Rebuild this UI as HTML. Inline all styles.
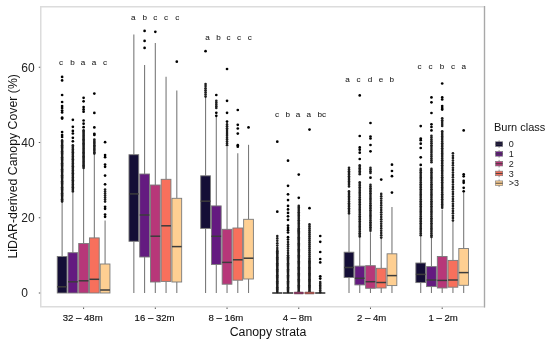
<!DOCTYPE html>
<html><head><meta charset="utf-8"><title>Canopy cover boxplot</title>
<style>
html,body{margin:0;padding:0;background:#fff;}
body{width:550px;height:345px;overflow:hidden;}
svg{display:block;}
text{font-family:"Liberation Sans",Arial,sans-serif;}
.yt{font-size:12px;fill:#222;text-anchor:start;}
.xt{font-size:9.6px;fill:#111;stroke:#111;stroke-width:0.15px;text-anchor:middle;}
.lt{font-size:8.1px;fill:#151515;stroke:#151515;stroke-width:0.05px;text-anchor:middle;}
.at{font-size:12.3px;fill:#111;text-anchor:middle;}
.lg{font-size:11px;fill:#111;}
.ll{font-size:9px;fill:#222;}
</style></head>
<body>
<svg width="550" height="345" viewBox="0 0 550 345">
<rect x="40.75" y="6.75" width="443.75" height="300" fill="#fff" stroke="#dcdcdc" stroke-width="1.5"/>
<line x1="484.5" y1="6" x2="484.5" y2="307.5" stroke="#a8a8a8" stroke-width="1.2"/>
<line x1="38.8" y1="293.00" x2="40.2" y2="293.00" stroke="#555" stroke-width="1"/>
<text x="21.25" y="297.30" class="yt">0</text>
<line x1="38.8" y1="217.75" x2="40.2" y2="217.75" stroke="#555" stroke-width="1"/>
<text x="21.25" y="222.05" class="yt">20</text>
<line x1="38.8" y1="142.50" x2="40.2" y2="142.50" stroke="#555" stroke-width="1"/>
<text x="21.25" y="146.80" class="yt">40</text>
<line x1="38.8" y1="67.25" x2="40.2" y2="67.25" stroke="#555" stroke-width="1"/>
<text x="21.25" y="71.55" class="yt">60</text>
<line x1="83.60" y1="307.5" x2="83.60" y2="309" stroke="#555" stroke-width="1"/>
<text x="82.70" y="321.3" class="xt">32 – 48m</text>
<line x1="155.32" y1="307.5" x2="155.32" y2="309" stroke="#555" stroke-width="1"/>
<text x="154.57" y="321.3" class="xt">16 – 32m</text>
<line x1="227.04" y1="307.5" x2="227.04" y2="309" stroke="#555" stroke-width="1"/>
<text x="225.89" y="321.3" class="xt">8 – 16m</text>
<line x1="298.76" y1="307.5" x2="298.76" y2="309" stroke="#555" stroke-width="1"/>
<text x="297.41" y="321.3" class="xt">4 – 8m</text>
<line x1="370.48" y1="307.5" x2="370.48" y2="309" stroke="#555" stroke-width="1"/>
<text x="371.58" y="321.3" class="xt">2 – 4m</text>
<line x1="442.20" y1="307.5" x2="442.20" y2="309" stroke="#555" stroke-width="1"/>
<text x="443.10" y="321.3" class="xt">1 – 2m</text>
<line x1="62.12" y1="202.60" x2="62.12" y2="256.50" stroke="#7a7a7a" stroke-width="1.1"/>
<rect x="57.25" y="256.50" width="9.74" height="36.50" fill="#140e36" stroke="#7a7a7a" stroke-width="0.9"/>
<line x1="57.25" y1="286.80" x2="66.99" y2="286.80" stroke="#3c3c3c" stroke-width="1.5"/>
<line x1="72.86" y1="192.50" x2="72.86" y2="252.70" stroke="#7a7a7a" stroke-width="1.1"/>
<rect x="67.99" y="252.70" width="9.74" height="40.30" fill="#641a80" stroke="#7a7a7a" stroke-width="0.9"/>
<line x1="67.99" y1="281.80" x2="77.73" y2="281.80" stroke="#3c3c3c" stroke-width="1.5"/>
<line x1="83.60" y1="168.00" x2="83.60" y2="243.50" stroke="#7a7a7a" stroke-width="1.1"/>
<rect x="78.73" y="243.50" width="9.74" height="49.50" fill="#b73779" stroke="#7a7a7a" stroke-width="0.9"/>
<line x1="78.73" y1="280.80" x2="88.47" y2="280.80" stroke="#3c3c3c" stroke-width="1.5"/>
<line x1="94.34" y1="154.30" x2="94.34" y2="237.90" stroke="#7a7a7a" stroke-width="1.1"/>
<rect x="89.47" y="237.90" width="9.74" height="55.10" fill="#f7705c" stroke="#7a7a7a" stroke-width="0.9"/>
<line x1="89.47" y1="279.30" x2="99.21" y2="279.30" stroke="#3c3c3c" stroke-width="1.5"/>
<line x1="105.08" y1="220.50" x2="105.08" y2="264.00" stroke="#7a7a7a" stroke-width="1.1"/>
<rect x="100.21" y="264.00" width="9.74" height="29.00" fill="#fecf92" stroke="#7a7a7a" stroke-width="0.9"/>
<line x1="100.21" y1="290.00" x2="109.95" y2="290.00" stroke="#3c3c3c" stroke-width="1.5"/>
<line x1="133.84" y1="34.60" x2="133.84" y2="154.70" stroke="#7a7a7a" stroke-width="1.1"/>
<line x1="133.84" y1="241.30" x2="133.84" y2="293.00" stroke="#7a7a7a" stroke-width="1.1"/>
<rect x="128.97" y="154.70" width="9.74" height="86.60" fill="#140e36" stroke="#7a7a7a" stroke-width="0.9"/>
<line x1="128.97" y1="193.90" x2="138.71" y2="193.90" stroke="#3c3c3c" stroke-width="1.5"/>
<line x1="144.58" y1="65.00" x2="144.58" y2="174.00" stroke="#7a7a7a" stroke-width="1.1"/>
<line x1="144.58" y1="257.00" x2="144.58" y2="293.00" stroke="#7a7a7a" stroke-width="1.1"/>
<rect x="139.71" y="174.00" width="9.74" height="83.00" fill="#641a80" stroke="#7a7a7a" stroke-width="0.9"/>
<line x1="139.71" y1="215.00" x2="149.45" y2="215.00" stroke="#3c3c3c" stroke-width="1.5"/>
<line x1="155.32" y1="43.00" x2="155.32" y2="185.00" stroke="#7a7a7a" stroke-width="1.1"/>
<line x1="155.32" y1="282.00" x2="155.32" y2="293.00" stroke="#7a7a7a" stroke-width="1.1"/>
<rect x="150.45" y="185.00" width="9.74" height="97.00" fill="#b73779" stroke="#7a7a7a" stroke-width="0.9"/>
<line x1="150.45" y1="236.20" x2="160.19" y2="236.20" stroke="#3c3c3c" stroke-width="1.5"/>
<line x1="166.06" y1="76.80" x2="166.06" y2="179.30" stroke="#7a7a7a" stroke-width="1.1"/>
<line x1="166.06" y1="281.40" x2="166.06" y2="293.00" stroke="#7a7a7a" stroke-width="1.1"/>
<rect x="161.19" y="179.30" width="9.74" height="102.10" fill="#f7705c" stroke="#7a7a7a" stroke-width="0.9"/>
<line x1="161.19" y1="225.80" x2="170.93" y2="225.80" stroke="#3c3c3c" stroke-width="1.5"/>
<line x1="176.80" y1="90.40" x2="176.80" y2="198.30" stroke="#7a7a7a" stroke-width="1.1"/>
<line x1="176.80" y1="282.00" x2="176.80" y2="293.00" stroke="#7a7a7a" stroke-width="1.1"/>
<rect x="171.93" y="198.30" width="9.74" height="83.70" fill="#fecf92" stroke="#7a7a7a" stroke-width="0.9"/>
<line x1="171.93" y1="246.60" x2="181.67" y2="246.60" stroke="#3c3c3c" stroke-width="1.5"/>
<line x1="205.56" y1="97.00" x2="205.56" y2="175.80" stroke="#7a7a7a" stroke-width="1.1"/>
<line x1="205.56" y1="228.40" x2="205.56" y2="293.00" stroke="#7a7a7a" stroke-width="1.1"/>
<rect x="200.69" y="175.80" width="9.74" height="52.60" fill="#140e36" stroke="#7a7a7a" stroke-width="0.9"/>
<line x1="200.69" y1="201.20" x2="210.43" y2="201.20" stroke="#3c3c3c" stroke-width="1.5"/>
<line x1="216.30" y1="116.00" x2="216.30" y2="205.90" stroke="#7a7a7a" stroke-width="1.1"/>
<line x1="216.30" y1="264.50" x2="216.30" y2="293.00" stroke="#7a7a7a" stroke-width="1.1"/>
<rect x="211.43" y="205.90" width="9.74" height="58.60" fill="#641a80" stroke="#7a7a7a" stroke-width="0.9"/>
<line x1="211.43" y1="236.30" x2="221.17" y2="236.30" stroke="#3c3c3c" stroke-width="1.5"/>
<line x1="227.04" y1="147.00" x2="227.04" y2="229.30" stroke="#7a7a7a" stroke-width="1.1"/>
<line x1="227.04" y1="284.20" x2="227.04" y2="293.00" stroke="#7a7a7a" stroke-width="1.1"/>
<rect x="222.17" y="229.30" width="9.74" height="54.90" fill="#b73779" stroke="#7a7a7a" stroke-width="0.9"/>
<line x1="222.17" y1="262.40" x2="231.91" y2="262.40" stroke="#3c3c3c" stroke-width="1.5"/>
<line x1="237.78" y1="153.30" x2="237.78" y2="228.00" stroke="#7a7a7a" stroke-width="1.1"/>
<line x1="237.78" y1="280.20" x2="237.78" y2="293.00" stroke="#7a7a7a" stroke-width="1.1"/>
<rect x="232.91" y="228.00" width="9.74" height="52.20" fill="#f7705c" stroke="#7a7a7a" stroke-width="0.9"/>
<line x1="232.91" y1="259.80" x2="242.65" y2="259.80" stroke="#3c3c3c" stroke-width="1.5"/>
<line x1="248.52" y1="144.80" x2="248.52" y2="219.30" stroke="#7a7a7a" stroke-width="1.1"/>
<line x1="248.52" y1="279.00" x2="248.52" y2="293.00" stroke="#7a7a7a" stroke-width="1.1"/>
<rect x="243.65" y="219.30" width="9.74" height="59.70" fill="#fecf92" stroke="#7a7a7a" stroke-width="0.9"/>
<line x1="243.65" y1="258.20" x2="253.39" y2="258.20" stroke="#3c3c3c" stroke-width="1.5"/>
<line x1="349.00" y1="214.80" x2="349.00" y2="252.20" stroke="#7a7a7a" stroke-width="1.1"/>
<line x1="349.00" y1="277.50" x2="349.00" y2="293.00" stroke="#7a7a7a" stroke-width="1.1"/>
<rect x="344.13" y="252.20" width="9.74" height="25.30" fill="#140e36" stroke="#7a7a7a" stroke-width="0.9"/>
<line x1="344.13" y1="267.50" x2="353.87" y2="267.50" stroke="#3c3c3c" stroke-width="1.5"/>
<line x1="359.74" y1="237.90" x2="359.74" y2="266.10" stroke="#7a7a7a" stroke-width="1.1"/>
<line x1="359.74" y1="284.90" x2="359.74" y2="293.00" stroke="#7a7a7a" stroke-width="1.1"/>
<rect x="354.87" y="266.10" width="9.74" height="18.80" fill="#641a80" stroke="#7a7a7a" stroke-width="0.9"/>
<line x1="354.87" y1="278.30" x2="364.61" y2="278.30" stroke="#3c3c3c" stroke-width="1.5"/>
<line x1="370.48" y1="232.20" x2="370.48" y2="265.70" stroke="#7a7a7a" stroke-width="1.1"/>
<line x1="370.48" y1="288.30" x2="370.48" y2="293.00" stroke="#7a7a7a" stroke-width="1.1"/>
<rect x="365.61" y="265.70" width="9.74" height="22.60" fill="#b73779" stroke="#7a7a7a" stroke-width="0.9"/>
<line x1="365.61" y1="281.70" x2="375.35" y2="281.70" stroke="#3c3c3c" stroke-width="1.5"/>
<line x1="381.22" y1="237.90" x2="381.22" y2="268.30" stroke="#7a7a7a" stroke-width="1.1"/>
<line x1="381.22" y1="288.00" x2="381.22" y2="293.00" stroke="#7a7a7a" stroke-width="1.1"/>
<rect x="376.35" y="268.30" width="9.74" height="19.70" fill="#f7705c" stroke="#7a7a7a" stroke-width="0.9"/>
<line x1="376.35" y1="282.50" x2="386.09" y2="282.50" stroke="#3c3c3c" stroke-width="1.5"/>
<line x1="391.96" y1="207.00" x2="391.96" y2="253.80" stroke="#7a7a7a" stroke-width="1.1"/>
<line x1="391.96" y1="285.60" x2="391.96" y2="293.00" stroke="#7a7a7a" stroke-width="1.1"/>
<rect x="387.09" y="253.80" width="9.74" height="31.80" fill="#fecf92" stroke="#7a7a7a" stroke-width="0.9"/>
<line x1="387.09" y1="275.60" x2="396.83" y2="275.60" stroke="#3c3c3c" stroke-width="1.5"/>
<line x1="420.72" y1="235.20" x2="420.72" y2="263.00" stroke="#7a7a7a" stroke-width="1.1"/>
<line x1="420.72" y1="282.60" x2="420.72" y2="293.00" stroke="#7a7a7a" stroke-width="1.1"/>
<rect x="415.85" y="263.00" width="9.74" height="19.60" fill="#140e36" stroke="#7a7a7a" stroke-width="0.9"/>
<line x1="415.85" y1="274.40" x2="425.59" y2="274.40" stroke="#3c3c3c" stroke-width="1.5"/>
<line x1="431.46" y1="237.10" x2="431.46" y2="266.60" stroke="#7a7a7a" stroke-width="1.1"/>
<line x1="431.46" y1="286.60" x2="431.46" y2="293.00" stroke="#7a7a7a" stroke-width="1.1"/>
<rect x="426.59" y="266.60" width="9.74" height="20.00" fill="#641a80" stroke="#7a7a7a" stroke-width="0.9"/>
<line x1="426.59" y1="280.00" x2="436.33" y2="280.00" stroke="#3c3c3c" stroke-width="1.5"/>
<line x1="442.20" y1="209.40" x2="442.20" y2="256.50" stroke="#7a7a7a" stroke-width="1.1"/>
<line x1="442.20" y1="288.00" x2="442.20" y2="293.00" stroke="#7a7a7a" stroke-width="1.1"/>
<rect x="437.33" y="256.50" width="9.74" height="31.50" fill="#b73779" stroke="#7a7a7a" stroke-width="0.9"/>
<line x1="437.33" y1="280.40" x2="447.07" y2="280.40" stroke="#3c3c3c" stroke-width="1.5"/>
<line x1="452.94" y1="221.00" x2="452.94" y2="260.40" stroke="#7a7a7a" stroke-width="1.1"/>
<line x1="452.94" y1="287.20" x2="452.94" y2="293.00" stroke="#7a7a7a" stroke-width="1.1"/>
<rect x="448.07" y="260.40" width="9.74" height="26.80" fill="#f7705c" stroke="#7a7a7a" stroke-width="0.9"/>
<line x1="448.07" y1="280.00" x2="457.81" y2="280.00" stroke="#3c3c3c" stroke-width="1.5"/>
<line x1="463.68" y1="192.40" x2="463.68" y2="248.50" stroke="#7a7a7a" stroke-width="1.1"/>
<line x1="463.68" y1="285.30" x2="463.68" y2="293.00" stroke="#7a7a7a" stroke-width="1.1"/>
<rect x="458.81" y="248.50" width="9.74" height="36.80" fill="#fecf92" stroke="#7a7a7a" stroke-width="0.9"/>
<line x1="458.81" y1="272.60" x2="468.55" y2="272.60" stroke="#3c3c3c" stroke-width="1.5"/>
<g fill="#000"><circle cx="62.12" cy="76.90" r="1.35"/><circle cx="62.12" cy="80.40" r="1.35"/><circle cx="62.12" cy="95.00" r="1.35"/><circle cx="62.12" cy="102.00" r="1.35"/><circle cx="62.12" cy="106.00" r="1.35"/><circle cx="62.12" cy="108.00" r="1.35"/><circle cx="62.12" cy="110.50" r="1.35"/><circle cx="62.12" cy="112.40" r="1.35"/><circle cx="62.12" cy="117.50" r="1.35"/><circle cx="62.12" cy="118.60" r="1.35"/><circle cx="62.12" cy="132.10" r="1.35"/><circle cx="62.12" cy="135.00" r="1.35"/><circle cx="62.12" cy="137.00" r="1.35"/><circle cx="72.86" cy="119.80" r="1.35"/><circle cx="72.86" cy="126.80" r="1.35"/><circle cx="72.86" cy="130.90" r="1.35"/><circle cx="72.86" cy="133.50" r="1.35"/><circle cx="72.86" cy="137.80" r="1.35"/><circle cx="72.86" cy="141.30" r="1.35"/><circle cx="83.60" cy="97.80" r="1.35"/><circle cx="83.60" cy="101.30" r="1.35"/><circle cx="83.60" cy="107.00" r="1.35"/><circle cx="83.60" cy="109.40" r="1.35"/><circle cx="83.60" cy="111.70" r="1.35"/><circle cx="83.60" cy="120.50" r="1.35"/><circle cx="83.60" cy="123.70" r="1.35"/><circle cx="83.60" cy="127.20" r="1.35"/><circle cx="94.34" cy="93.60" r="1.35"/><circle cx="94.34" cy="112.90" r="1.35"/><circle cx="94.34" cy="127.40" r="1.35"/><circle cx="94.34" cy="133.80" r="1.35"/><circle cx="94.34" cy="134.90" r="1.35"/><circle cx="105.08" cy="142.20" r="1.35"/><circle cx="105.08" cy="155.00" r="1.35"/><circle cx="105.08" cy="157.20" r="1.35"/><circle cx="105.08" cy="164.60" r="1.35"/><circle cx="105.08" cy="166.80" r="1.35"/><circle cx="105.08" cy="175.60" r="1.35"/><circle cx="105.08" cy="184.30" r="1.35"/><circle cx="105.08" cy="206.80" r="1.35"/><circle cx="105.08" cy="208.80" r="1.35"/><circle cx="105.08" cy="214.60" r="1.35"/><circle cx="105.08" cy="216.80" r="1.35"/><circle cx="144.58" cy="30.90" r="1.35"/><circle cx="144.58" cy="40.90" r="1.35"/><circle cx="144.58" cy="47.90" r="1.35"/><circle cx="155.32" cy="31.80" r="1.35"/><circle cx="176.80" cy="61.70" r="1.35"/><circle cx="205.56" cy="51.20" r="1.35"/><circle cx="216.30" cy="95.00" r="1.35"/><circle cx="216.30" cy="112.80" r="1.35"/><circle cx="216.30" cy="115.80" r="1.35"/><circle cx="227.04" cy="69.00" r="1.35"/><circle cx="227.04" cy="100.80" r="1.35"/><circle cx="227.04" cy="112.80" r="1.35"/><circle cx="227.04" cy="121.60" r="1.35"/><circle cx="237.78" cy="110.00" r="1.35"/><circle cx="237.78" cy="124.80" r="1.35"/><circle cx="237.78" cy="128.50" r="1.35"/><circle cx="237.78" cy="133.60" r="1.35"/><circle cx="237.78" cy="145.20" r="1.35"/><circle cx="237.78" cy="146.70" r="1.35"/><circle cx="248.52" cy="127.40" r="1.35"/><circle cx="277.28" cy="141.70" r="1.35"/><circle cx="277.28" cy="211.70" r="1.35"/><circle cx="288.02" cy="160.70" r="1.35"/><circle cx="288.02" cy="185.80" r="1.35"/><circle cx="288.02" cy="194.30" r="1.35"/><circle cx="288.02" cy="200.10" r="1.35"/><circle cx="288.02" cy="205.90" r="1.35"/><circle cx="288.02" cy="209.40" r="1.35"/><circle cx="288.02" cy="212.90" r="1.35"/><circle cx="288.02" cy="216.30" r="1.35"/><circle cx="288.02" cy="219.80" r="1.35"/><circle cx="288.02" cy="225.60" r="1.35"/><circle cx="288.02" cy="227.90" r="1.35"/><circle cx="288.02" cy="230.20" r="1.35"/><circle cx="288.02" cy="232.50" r="1.35"/><circle cx="288.02" cy="237.20" r="1.35"/><circle cx="288.02" cy="239.50" r="1.35"/><circle cx="298.76" cy="174.60" r="1.35"/><circle cx="298.76" cy="197.80" r="1.35"/><circle cx="309.50" cy="129.60" r="1.35"/><circle cx="309.50" cy="208.20" r="1.35"/><circle cx="320.24" cy="236.00" r="1.35"/><circle cx="320.24" cy="241.80" r="1.35"/><circle cx="320.24" cy="252.00" r="1.35"/><circle cx="320.24" cy="259.00" r="1.35"/><circle cx="320.24" cy="262.40" r="1.35"/><circle cx="320.24" cy="276.30" r="1.35"/><circle cx="320.24" cy="278.60" r="1.35"/><circle cx="359.74" cy="95.40" r="1.35"/><circle cx="359.74" cy="136.00" r="1.35"/><circle cx="359.74" cy="147.40" r="1.35"/><circle cx="359.74" cy="149.70" r="1.35"/><circle cx="359.74" cy="152.70" r="1.35"/><circle cx="359.74" cy="159.00" r="1.35"/><circle cx="370.48" cy="123.00" r="1.35"/><circle cx="370.48" cy="136.50" r="1.35"/><circle cx="370.48" cy="138.50" r="1.35"/><circle cx="370.48" cy="145.00" r="1.35"/><circle cx="370.48" cy="151.30" r="1.35"/><circle cx="370.48" cy="177.70" r="1.35"/><circle cx="381.22" cy="179.60" r="1.35"/><circle cx="391.96" cy="164.70" r="1.35"/><circle cx="391.96" cy="171.00" r="1.35"/><circle cx="391.96" cy="176.20" r="1.35"/><circle cx="391.96" cy="192.60" r="1.35"/><circle cx="420.72" cy="126.10" r="1.35"/><circle cx="420.72" cy="138.50" r="1.35"/><circle cx="420.72" cy="140.20" r="1.35"/><circle cx="420.72" cy="143.70" r="1.35"/><circle cx="420.72" cy="148.00" r="1.35"/><circle cx="420.72" cy="157.30" r="1.35"/><circle cx="420.72" cy="164.90" r="1.35"/><circle cx="431.46" cy="97.40" r="1.35"/><circle cx="431.46" cy="102.30" r="1.35"/><circle cx="431.46" cy="113.00" r="1.35"/><circle cx="431.46" cy="124.30" r="1.35"/><circle cx="431.46" cy="127.00" r="1.35"/><circle cx="431.46" cy="130.40" r="1.35"/><circle cx="442.20" cy="83.50" r="1.35"/><circle cx="442.20" cy="97.40" r="1.35"/><circle cx="442.20" cy="99.50" r="1.35"/><circle cx="442.20" cy="106.00" r="1.35"/><circle cx="442.20" cy="108.00" r="1.35"/><circle cx="442.20" cy="109.60" r="1.35"/><circle cx="463.68" cy="130.40" r="1.35"/><circle cx="463.68" cy="174.30" r="1.35"/><circle cx="463.68" cy="176.30" r="1.35"/><circle cx="463.68" cy="180.90" r="1.35"/><circle cx="463.68" cy="182.80" r="1.35"/><circle cx="463.68" cy="187.80" r="1.35"/><circle cx="463.68" cy="191.30" r="1.35"/></g>
<g fill="#1e1e1e"><circle cx="62.12" cy="140.40" r="1.3"/><circle cx="62.12" cy="141.60" r="1.3"/><circle cx="62.12" cy="142.80" r="1.3"/><circle cx="62.12" cy="144.00" r="1.3"/><circle cx="62.12" cy="145.20" r="1.3"/><circle cx="62.12" cy="146.40" r="1.3"/><circle cx="62.12" cy="147.60" r="1.3"/><circle cx="62.12" cy="148.80" r="1.3"/><circle cx="62.12" cy="150.00" r="1.3"/><circle cx="62.12" cy="151.20" r="1.3"/><circle cx="62.12" cy="152.40" r="1.3"/><circle cx="62.12" cy="153.60" r="1.3"/><circle cx="62.12" cy="154.80" r="1.3"/><circle cx="62.12" cy="156.00" r="1.3"/><circle cx="62.12" cy="157.20" r="1.3"/><circle cx="62.12" cy="158.40" r="1.3"/><circle cx="62.12" cy="159.60" r="1.3"/><circle cx="62.12" cy="160.80" r="1.3"/><circle cx="62.12" cy="162.00" r="1.3"/><circle cx="62.12" cy="163.20" r="1.3"/><circle cx="62.12" cy="164.40" r="1.3"/><circle cx="62.12" cy="165.60" r="1.3"/><circle cx="62.12" cy="166.80" r="1.3"/><circle cx="62.12" cy="168.00" r="1.3"/><circle cx="62.12" cy="169.20" r="1.3"/><circle cx="62.12" cy="170.40" r="1.3"/><circle cx="62.12" cy="171.60" r="1.3"/><circle cx="62.12" cy="172.80" r="1.3"/><circle cx="62.12" cy="174.00" r="1.3"/><circle cx="62.12" cy="175.20" r="1.3"/><circle cx="62.12" cy="176.40" r="1.3"/><circle cx="62.12" cy="177.60" r="1.3"/><circle cx="62.12" cy="178.80" r="1.3"/><circle cx="62.12" cy="180.00" r="1.3"/><circle cx="62.12" cy="181.20" r="1.3"/><circle cx="62.12" cy="182.40" r="1.3"/><circle cx="62.12" cy="183.60" r="1.3"/><circle cx="62.12" cy="184.80" r="1.3"/><circle cx="62.12" cy="186.00" r="1.3"/><circle cx="62.12" cy="187.20" r="1.3"/><circle cx="62.12" cy="188.40" r="1.3"/><circle cx="62.12" cy="189.60" r="1.3"/><circle cx="62.12" cy="190.80" r="1.3"/><circle cx="62.12" cy="192.00" r="1.3"/><circle cx="62.12" cy="193.20" r="1.3"/><circle cx="62.12" cy="194.40" r="1.3"/><circle cx="62.12" cy="195.60" r="1.3"/><circle cx="62.12" cy="196.80" r="1.3"/><circle cx="62.12" cy="198.00" r="1.3"/><circle cx="62.12" cy="199.20" r="1.3"/><circle cx="62.12" cy="200.40" r="1.3"/><circle cx="62.12" cy="201.60" r="1.3"/><circle cx="72.86" cy="145.30" r="1.3"/><circle cx="72.86" cy="146.70" r="1.3"/><circle cx="72.86" cy="148.10" r="1.3"/><circle cx="72.86" cy="149.50" r="1.3"/><circle cx="72.86" cy="150.90" r="1.3"/><circle cx="72.86" cy="152.30" r="1.3"/><circle cx="72.86" cy="153.70" r="1.3"/><circle cx="72.86" cy="155.10" r="1.3"/><circle cx="72.86" cy="156.50" r="1.3"/><circle cx="72.86" cy="157.90" r="1.3"/><circle cx="72.86" cy="159.30" r="1.3"/><circle cx="72.86" cy="160.70" r="1.3"/><circle cx="72.86" cy="162.10" r="1.3"/><circle cx="72.86" cy="163.50" r="1.3"/><circle cx="72.86" cy="164.90" r="1.3"/><circle cx="72.86" cy="166.30" r="1.3"/><circle cx="72.86" cy="167.70" r="1.3"/><circle cx="72.86" cy="169.10" r="1.3"/><circle cx="72.86" cy="170.50" r="1.3"/><circle cx="72.86" cy="171.90" r="1.3"/><circle cx="72.86" cy="173.30" r="1.3"/><circle cx="72.86" cy="174.70" r="1.3"/><circle cx="72.86" cy="176.10" r="1.3"/><circle cx="72.86" cy="177.50" r="1.3"/><circle cx="72.86" cy="178.90" r="1.3"/><circle cx="72.86" cy="180.30" r="1.3"/><circle cx="72.86" cy="181.70" r="1.3"/><circle cx="72.86" cy="183.10" r="1.3"/><circle cx="72.86" cy="184.50" r="1.3"/><circle cx="72.86" cy="185.90" r="1.3"/><circle cx="72.86" cy="187.30" r="1.3"/><circle cx="72.86" cy="188.70" r="1.3"/><circle cx="72.86" cy="190.10" r="1.3"/><circle cx="72.86" cy="191.50" r="1.3"/><circle cx="83.60" cy="130.20" r="1.3"/><circle cx="83.60" cy="131.50" r="1.3"/><circle cx="83.60" cy="132.80" r="1.3"/><circle cx="83.60" cy="134.10" r="1.3"/><circle cx="83.60" cy="135.40" r="1.3"/><circle cx="83.60" cy="136.70" r="1.3"/><circle cx="83.60" cy="138.00" r="1.3"/><circle cx="83.60" cy="139.30" r="1.3"/><circle cx="83.60" cy="140.60" r="1.3"/><circle cx="83.60" cy="141.90" r="1.3"/><circle cx="83.60" cy="143.20" r="1.3"/><circle cx="83.60" cy="144.50" r="1.3"/><circle cx="83.60" cy="145.80" r="1.3"/><circle cx="83.60" cy="147.10" r="1.3"/><circle cx="83.60" cy="148.40" r="1.3"/><circle cx="83.60" cy="149.70" r="1.3"/><circle cx="83.60" cy="151.00" r="1.3"/><circle cx="83.60" cy="152.30" r="1.3"/><circle cx="83.60" cy="153.60" r="1.3"/><circle cx="83.60" cy="154.90" r="1.3"/><circle cx="83.60" cy="156.20" r="1.3"/><circle cx="83.60" cy="157.50" r="1.3"/><circle cx="83.60" cy="158.80" r="1.3"/><circle cx="83.60" cy="160.10" r="1.3"/><circle cx="83.60" cy="161.40" r="1.3"/><circle cx="83.60" cy="162.70" r="1.3"/><circle cx="83.60" cy="164.00" r="1.3"/><circle cx="83.60" cy="165.30" r="1.3"/><circle cx="83.60" cy="166.60" r="1.3"/><circle cx="83.60" cy="167.90" r="1.3"/><circle cx="94.34" cy="139.60" r="1.3"/><circle cx="94.34" cy="141.00" r="1.3"/><circle cx="94.34" cy="142.40" r="1.3"/><circle cx="94.34" cy="143.80" r="1.3"/><circle cx="94.34" cy="145.20" r="1.3"/><circle cx="94.34" cy="146.60" r="1.3"/><circle cx="94.34" cy="148.00" r="1.3"/><circle cx="94.34" cy="149.40" r="1.3"/><circle cx="94.34" cy="150.80" r="1.3"/><circle cx="94.34" cy="152.20" r="1.3"/><circle cx="94.34" cy="153.60" r="1.3"/><circle cx="105.08" cy="189.60" r="1.3"/><circle cx="105.08" cy="191.60" r="1.3"/><circle cx="105.08" cy="193.60" r="1.3"/><circle cx="105.08" cy="195.60" r="1.3"/><circle cx="105.08" cy="197.60" r="1.3"/><circle cx="105.08" cy="199.60" r="1.3"/><circle cx="105.08" cy="201.60" r="1.3"/><circle cx="205.56" cy="84.00" r="1.3"/><circle cx="205.56" cy="86.10" r="1.3"/><circle cx="205.56" cy="88.20" r="1.3"/><circle cx="205.56" cy="90.30" r="1.3"/><circle cx="205.56" cy="92.40" r="1.3"/><circle cx="205.56" cy="94.50" r="1.3"/><circle cx="205.56" cy="96.60" r="1.3"/><circle cx="216.30" cy="100.80" r="1.3"/><circle cx="216.30" cy="102.60" r="1.3"/><circle cx="216.30" cy="104.40" r="1.3"/><circle cx="216.30" cy="106.20" r="1.3"/><circle cx="216.30" cy="108.00" r="1.3"/><circle cx="227.04" cy="124.40" r="1.3"/><circle cx="227.04" cy="126.30" r="1.3"/><circle cx="227.04" cy="128.20" r="1.3"/><circle cx="227.04" cy="130.10" r="1.3"/><circle cx="227.04" cy="132.00" r="1.3"/><circle cx="227.04" cy="133.90" r="1.3"/><circle cx="227.04" cy="135.80" r="1.3"/><circle cx="227.04" cy="137.70" r="1.3"/><circle cx="227.04" cy="139.60" r="1.3"/><circle cx="227.04" cy="141.50" r="1.3"/><circle cx="227.04" cy="143.40" r="1.3"/><circle cx="227.04" cy="145.30" r="1.3"/><circle cx="277.28" cy="236.00" r="1.3"/><circle cx="277.28" cy="238.40" r="1.3"/><circle cx="277.28" cy="240.80" r="1.3"/><circle cx="277.28" cy="243.20" r="1.3"/><circle cx="277.28" cy="245.60" r="1.3"/><circle cx="277.28" cy="248.00" r="1.3"/><circle cx="277.28" cy="250.00" r="1.3"/><circle cx="277.28" cy="251.20" r="1.3"/><circle cx="277.28" cy="252.40" r="1.3"/><circle cx="277.28" cy="253.60" r="1.3"/><circle cx="277.28" cy="254.80" r="1.3"/><circle cx="277.28" cy="256.00" r="1.3"/><circle cx="277.28" cy="257.20" r="1.3"/><circle cx="277.28" cy="258.40" r="1.3"/><circle cx="277.28" cy="259.60" r="1.3"/><circle cx="277.28" cy="260.80" r="1.3"/><circle cx="277.28" cy="262.00" r="1.3"/><circle cx="277.28" cy="263.20" r="1.3"/><circle cx="277.28" cy="264.40" r="1.3"/><circle cx="277.28" cy="265.60" r="1.3"/><circle cx="277.28" cy="266.80" r="1.3"/><circle cx="277.28" cy="268.00" r="1.3"/><circle cx="277.28" cy="269.20" r="1.3"/><circle cx="277.28" cy="270.40" r="1.3"/><circle cx="277.28" cy="271.60" r="1.3"/><circle cx="277.28" cy="272.80" r="1.3"/><circle cx="277.28" cy="274.00" r="1.3"/><circle cx="277.28" cy="275.20" r="1.3"/><circle cx="277.28" cy="276.40" r="1.3"/><circle cx="277.28" cy="277.60" r="1.3"/><circle cx="277.28" cy="278.80" r="1.3"/><circle cx="277.28" cy="280.00" r="1.3"/><circle cx="277.28" cy="281.20" r="1.3"/><circle cx="277.28" cy="282.40" r="1.3"/><circle cx="277.28" cy="283.60" r="1.3"/><circle cx="277.28" cy="284.80" r="1.3"/><circle cx="277.28" cy="286.00" r="1.3"/><circle cx="277.28" cy="287.20" r="1.3"/><circle cx="277.28" cy="288.40" r="1.3"/><circle cx="277.28" cy="289.60" r="1.3"/><circle cx="277.28" cy="290.80" r="1.3"/><circle cx="277.28" cy="292.00" r="1.3"/><circle cx="288.02" cy="242.00" r="1.3"/><circle cx="288.02" cy="244.20" r="1.3"/><circle cx="288.02" cy="246.40" r="1.3"/><circle cx="288.02" cy="248.60" r="1.3"/><circle cx="288.02" cy="250.80" r="1.3"/><circle cx="288.02" cy="253.00" r="1.3"/><circle cx="288.02" cy="255.20" r="1.3"/><circle cx="288.02" cy="256.00" r="1.3"/><circle cx="288.02" cy="257.20" r="1.3"/><circle cx="288.02" cy="258.40" r="1.3"/><circle cx="288.02" cy="259.60" r="1.3"/><circle cx="288.02" cy="260.80" r="1.3"/><circle cx="288.02" cy="262.00" r="1.3"/><circle cx="288.02" cy="263.20" r="1.3"/><circle cx="288.02" cy="264.40" r="1.3"/><circle cx="288.02" cy="265.60" r="1.3"/><circle cx="288.02" cy="266.80" r="1.3"/><circle cx="288.02" cy="268.00" r="1.3"/><circle cx="288.02" cy="269.20" r="1.3"/><circle cx="288.02" cy="270.40" r="1.3"/><circle cx="288.02" cy="271.60" r="1.3"/><circle cx="288.02" cy="272.80" r="1.3"/><circle cx="288.02" cy="274.00" r="1.3"/><circle cx="288.02" cy="275.20" r="1.3"/><circle cx="288.02" cy="276.40" r="1.3"/><circle cx="288.02" cy="277.60" r="1.3"/><circle cx="288.02" cy="278.80" r="1.3"/><circle cx="288.02" cy="280.00" r="1.3"/><circle cx="288.02" cy="281.20" r="1.3"/><circle cx="288.02" cy="282.40" r="1.3"/><circle cx="288.02" cy="283.60" r="1.3"/><circle cx="288.02" cy="284.80" r="1.3"/><circle cx="288.02" cy="286.00" r="1.3"/><circle cx="288.02" cy="287.20" r="1.3"/><circle cx="288.02" cy="288.40" r="1.3"/><circle cx="288.02" cy="289.60" r="1.3"/><circle cx="288.02" cy="290.80" r="1.3"/><circle cx="288.02" cy="292.00" r="1.3"/><circle cx="298.76" cy="205.90" r="1.3"/><circle cx="298.76" cy="207.50" r="1.3"/><circle cx="298.76" cy="209.10" r="1.3"/><circle cx="298.76" cy="210.70" r="1.3"/><circle cx="298.76" cy="212.30" r="1.3"/><circle cx="298.76" cy="213.90" r="1.3"/><circle cx="298.76" cy="215.50" r="1.3"/><circle cx="298.76" cy="217.10" r="1.3"/><circle cx="298.76" cy="218.70" r="1.3"/><circle cx="298.76" cy="220.30" r="1.3"/><circle cx="298.76" cy="221.90" r="1.3"/><circle cx="298.76" cy="223.50" r="1.3"/><circle cx="298.76" cy="225.10" r="1.3"/><circle cx="298.76" cy="226.70" r="1.3"/><circle cx="298.76" cy="228.30" r="1.3"/><circle cx="298.76" cy="229.90" r="1.3"/><circle cx="298.76" cy="230.00" r="1.3"/><circle cx="298.76" cy="231.20" r="1.3"/><circle cx="298.76" cy="232.40" r="1.3"/><circle cx="298.76" cy="233.60" r="1.3"/><circle cx="298.76" cy="234.80" r="1.3"/><circle cx="298.76" cy="236.00" r="1.3"/><circle cx="298.76" cy="237.20" r="1.3"/><circle cx="298.76" cy="238.40" r="1.3"/><circle cx="298.76" cy="239.60" r="1.3"/><circle cx="298.76" cy="240.80" r="1.3"/><circle cx="298.76" cy="242.00" r="1.3"/><circle cx="298.76" cy="243.20" r="1.3"/><circle cx="298.76" cy="244.40" r="1.3"/><circle cx="298.76" cy="245.60" r="1.3"/><circle cx="298.76" cy="246.80" r="1.3"/><circle cx="298.76" cy="248.00" r="1.3"/><circle cx="298.76" cy="249.20" r="1.3"/><circle cx="298.76" cy="250.40" r="1.3"/><circle cx="298.76" cy="251.60" r="1.3"/><circle cx="298.76" cy="252.80" r="1.3"/><circle cx="298.76" cy="254.00" r="1.3"/><circle cx="298.76" cy="255.20" r="1.3"/><circle cx="298.76" cy="256.40" r="1.3"/><circle cx="298.76" cy="257.60" r="1.3"/><circle cx="298.76" cy="258.80" r="1.3"/><circle cx="298.76" cy="260.00" r="1.3"/><circle cx="298.76" cy="261.20" r="1.3"/><circle cx="298.76" cy="262.40" r="1.3"/><circle cx="298.76" cy="263.60" r="1.3"/><circle cx="298.76" cy="264.80" r="1.3"/><circle cx="298.76" cy="266.00" r="1.3"/><circle cx="298.76" cy="267.20" r="1.3"/><circle cx="298.76" cy="268.40" r="1.3"/><circle cx="298.76" cy="269.60" r="1.3"/><circle cx="298.76" cy="270.80" r="1.3"/><circle cx="298.76" cy="272.00" r="1.3"/><circle cx="298.76" cy="273.20" r="1.3"/><circle cx="298.76" cy="274.40" r="1.3"/><circle cx="298.76" cy="275.60" r="1.3"/><circle cx="298.76" cy="276.80" r="1.3"/><circle cx="298.76" cy="278.00" r="1.3"/><circle cx="298.76" cy="279.20" r="1.3"/><circle cx="298.76" cy="280.40" r="1.3"/><circle cx="298.76" cy="281.60" r="1.3"/><circle cx="298.76" cy="282.80" r="1.3"/><circle cx="298.76" cy="284.00" r="1.3"/><circle cx="298.76" cy="285.20" r="1.3"/><circle cx="298.76" cy="286.40" r="1.3"/><circle cx="298.76" cy="287.60" r="1.3"/><circle cx="298.76" cy="288.80" r="1.3"/><circle cx="298.76" cy="290.00" r="1.3"/><circle cx="298.76" cy="291.20" r="1.3"/><circle cx="298.76" cy="292.40" r="1.3"/><circle cx="309.50" cy="224.40" r="1.3"/><circle cx="309.50" cy="226.40" r="1.3"/><circle cx="309.50" cy="228.40" r="1.3"/><circle cx="309.50" cy="230.40" r="1.3"/><circle cx="309.50" cy="232.40" r="1.3"/><circle cx="309.50" cy="234.40" r="1.3"/><circle cx="309.50" cy="236.40" r="1.3"/><circle cx="309.50" cy="238.40" r="1.3"/><circle cx="309.50" cy="240.40" r="1.3"/><circle cx="309.50" cy="242.40" r="1.3"/><circle cx="309.50" cy="244.40" r="1.3"/><circle cx="309.50" cy="246.40" r="1.3"/><circle cx="309.50" cy="248.40" r="1.3"/><circle cx="309.50" cy="250.40" r="1.3"/><circle cx="309.50" cy="252.40" r="1.3"/><circle cx="309.50" cy="254.40" r="1.3"/><circle cx="309.50" cy="256.40" r="1.3"/><circle cx="309.50" cy="258.40" r="1.3"/><circle cx="309.50" cy="260.00" r="1.3"/><circle cx="309.50" cy="261.20" r="1.3"/><circle cx="309.50" cy="262.40" r="1.3"/><circle cx="309.50" cy="263.60" r="1.3"/><circle cx="309.50" cy="264.80" r="1.3"/><circle cx="309.50" cy="266.00" r="1.3"/><circle cx="309.50" cy="267.20" r="1.3"/><circle cx="309.50" cy="268.40" r="1.3"/><circle cx="309.50" cy="269.60" r="1.3"/><circle cx="309.50" cy="270.80" r="1.3"/><circle cx="309.50" cy="272.00" r="1.3"/><circle cx="309.50" cy="273.20" r="1.3"/><circle cx="309.50" cy="274.40" r="1.3"/><circle cx="309.50" cy="275.60" r="1.3"/><circle cx="309.50" cy="276.80" r="1.3"/><circle cx="309.50" cy="278.00" r="1.3"/><circle cx="309.50" cy="279.20" r="1.3"/><circle cx="309.50" cy="280.40" r="1.3"/><circle cx="309.50" cy="281.60" r="1.3"/><circle cx="309.50" cy="282.80" r="1.3"/><circle cx="309.50" cy="284.00" r="1.3"/><circle cx="309.50" cy="285.20" r="1.3"/><circle cx="309.50" cy="286.40" r="1.3"/><circle cx="309.50" cy="287.60" r="1.3"/><circle cx="309.50" cy="288.80" r="1.3"/><circle cx="309.50" cy="290.00" r="1.3"/><circle cx="309.50" cy="291.20" r="1.3"/><circle cx="309.50" cy="292.40" r="1.3"/><circle cx="320.24" cy="282.00" r="1.3"/><circle cx="320.24" cy="283.70" r="1.3"/><circle cx="320.24" cy="285.40" r="1.3"/><circle cx="320.24" cy="287.10" r="1.3"/><circle cx="320.24" cy="288.80" r="1.3"/><circle cx="320.24" cy="290.50" r="1.3"/><circle cx="320.24" cy="292.20" r="1.3"/><circle cx="349.00" cy="167.80" r="1.3"/><circle cx="349.00" cy="169.50" r="1.3"/><circle cx="349.00" cy="171.20" r="1.3"/><circle cx="349.00" cy="172.90" r="1.3"/><circle cx="349.00" cy="174.60" r="1.3"/><circle cx="349.00" cy="176.30" r="1.3"/><circle cx="349.00" cy="178.00" r="1.3"/><circle cx="349.00" cy="179.70" r="1.3"/><circle cx="349.00" cy="181.40" r="1.3"/><circle cx="349.00" cy="183.10" r="1.3"/><circle cx="349.00" cy="184.80" r="1.3"/><circle cx="349.00" cy="186.50" r="1.3"/><circle cx="349.00" cy="191.30" r="1.3"/><circle cx="349.00" cy="193.00" r="1.3"/><circle cx="349.00" cy="194.70" r="1.3"/><circle cx="349.00" cy="196.40" r="1.3"/><circle cx="349.00" cy="198.10" r="1.3"/><circle cx="349.00" cy="199.80" r="1.3"/><circle cx="349.00" cy="201.50" r="1.3"/><circle cx="349.00" cy="203.20" r="1.3"/><circle cx="349.00" cy="204.90" r="1.3"/><circle cx="349.00" cy="206.60" r="1.3"/><circle cx="349.00" cy="208.30" r="1.3"/><circle cx="349.00" cy="210.00" r="1.3"/><circle cx="349.00" cy="211.70" r="1.3"/><circle cx="349.00" cy="213.40" r="1.3"/><circle cx="359.74" cy="165.20" r="1.3"/><circle cx="359.74" cy="166.70" r="1.3"/><circle cx="359.74" cy="168.20" r="1.3"/><circle cx="359.74" cy="169.70" r="1.3"/><circle cx="359.74" cy="171.20" r="1.3"/><circle cx="359.74" cy="172.70" r="1.3"/><circle cx="359.74" cy="174.20" r="1.3"/><circle cx="359.74" cy="182.20" r="1.3"/><circle cx="359.74" cy="183.90" r="1.3"/><circle cx="359.74" cy="185.60" r="1.3"/><circle cx="359.74" cy="187.30" r="1.3"/><circle cx="359.74" cy="189.00" r="1.3"/><circle cx="359.74" cy="190.70" r="1.3"/><circle cx="359.74" cy="192.40" r="1.3"/><circle cx="359.74" cy="194.10" r="1.3"/><circle cx="359.74" cy="195.80" r="1.3"/><circle cx="359.74" cy="197.50" r="1.3"/><circle cx="359.74" cy="199.20" r="1.3"/><circle cx="359.74" cy="200.90" r="1.3"/><circle cx="359.74" cy="202.60" r="1.3"/><circle cx="359.74" cy="204.30" r="1.3"/><circle cx="359.74" cy="206.00" r="1.3"/><circle cx="359.74" cy="207.70" r="1.3"/><circle cx="359.74" cy="209.40" r="1.3"/><circle cx="359.74" cy="211.10" r="1.3"/><circle cx="359.74" cy="212.80" r="1.3"/><circle cx="359.74" cy="214.50" r="1.3"/><circle cx="359.74" cy="216.20" r="1.3"/><circle cx="359.74" cy="217.90" r="1.3"/><circle cx="359.74" cy="219.60" r="1.3"/><circle cx="359.74" cy="221.30" r="1.3"/><circle cx="359.74" cy="223.00" r="1.3"/><circle cx="359.74" cy="224.70" r="1.3"/><circle cx="359.74" cy="226.40" r="1.3"/><circle cx="359.74" cy="228.10" r="1.3"/><circle cx="359.74" cy="229.80" r="1.3"/><circle cx="359.74" cy="231.50" r="1.3"/><circle cx="359.74" cy="233.20" r="1.3"/><circle cx="359.74" cy="234.90" r="1.3"/><circle cx="359.74" cy="236.60" r="1.3"/><circle cx="370.48" cy="167.80" r="1.3"/><circle cx="370.48" cy="169.50" r="1.3"/><circle cx="370.48" cy="171.20" r="1.3"/><circle cx="370.48" cy="172.90" r="1.3"/><circle cx="370.48" cy="184.80" r="1.3"/><circle cx="370.48" cy="186.50" r="1.3"/><circle cx="370.48" cy="188.20" r="1.3"/><circle cx="370.48" cy="189.90" r="1.3"/><circle cx="370.48" cy="191.60" r="1.3"/><circle cx="370.48" cy="193.30" r="1.3"/><circle cx="370.48" cy="195.00" r="1.3"/><circle cx="370.48" cy="196.70" r="1.3"/><circle cx="370.48" cy="198.40" r="1.3"/><circle cx="370.48" cy="200.10" r="1.3"/><circle cx="370.48" cy="201.80" r="1.3"/><circle cx="370.48" cy="203.50" r="1.3"/><circle cx="370.48" cy="205.20" r="1.3"/><circle cx="370.48" cy="206.90" r="1.3"/><circle cx="370.48" cy="208.60" r="1.3"/><circle cx="370.48" cy="210.30" r="1.3"/><circle cx="370.48" cy="212.00" r="1.3"/><circle cx="370.48" cy="213.70" r="1.3"/><circle cx="370.48" cy="215.40" r="1.3"/><circle cx="370.48" cy="217.10" r="1.3"/><circle cx="370.48" cy="218.80" r="1.3"/><circle cx="370.48" cy="220.50" r="1.3"/><circle cx="370.48" cy="222.20" r="1.3"/><circle cx="370.48" cy="223.90" r="1.3"/><circle cx="370.48" cy="225.60" r="1.3"/><circle cx="370.48" cy="227.30" r="1.3"/><circle cx="370.48" cy="229.00" r="1.3"/><circle cx="370.48" cy="230.70" r="1.3"/><circle cx="381.22" cy="193.90" r="1.3"/><circle cx="381.22" cy="196.20" r="1.3"/><circle cx="381.22" cy="198.50" r="1.3"/><circle cx="381.22" cy="200.80" r="1.3"/><circle cx="381.22" cy="203.10" r="1.3"/><circle cx="381.22" cy="205.40" r="1.3"/><circle cx="381.22" cy="207.70" r="1.3"/><circle cx="381.22" cy="210.00" r="1.3"/><circle cx="381.22" cy="212.30" r="1.3"/><circle cx="381.22" cy="214.60" r="1.3"/><circle cx="381.22" cy="216.90" r="1.3"/><circle cx="381.22" cy="219.20" r="1.3"/><circle cx="381.22" cy="221.50" r="1.3"/><circle cx="381.22" cy="223.80" r="1.3"/><circle cx="381.22" cy="226.10" r="1.3"/><circle cx="381.22" cy="228.40" r="1.3"/><circle cx="381.22" cy="230.70" r="1.3"/><circle cx="381.22" cy="233.00" r="1.3"/><circle cx="381.22" cy="235.30" r="1.3"/><circle cx="381.22" cy="237.60" r="1.3"/><circle cx="420.72" cy="168.90" r="1.3"/><circle cx="420.72" cy="170.60" r="1.3"/><circle cx="420.72" cy="172.30" r="1.3"/><circle cx="420.72" cy="174.00" r="1.3"/><circle cx="420.72" cy="175.70" r="1.3"/><circle cx="420.72" cy="177.40" r="1.3"/><circle cx="420.72" cy="179.10" r="1.3"/><circle cx="420.72" cy="180.80" r="1.3"/><circle cx="420.72" cy="182.50" r="1.3"/><circle cx="420.72" cy="184.20" r="1.3"/><circle cx="420.72" cy="185.90" r="1.3"/><circle cx="420.72" cy="187.60" r="1.3"/><circle cx="420.72" cy="189.30" r="1.3"/><circle cx="420.72" cy="191.00" r="1.3"/><circle cx="420.72" cy="192.70" r="1.3"/><circle cx="420.72" cy="194.40" r="1.3"/><circle cx="420.72" cy="196.10" r="1.3"/><circle cx="420.72" cy="197.80" r="1.3"/><circle cx="420.72" cy="199.50" r="1.3"/><circle cx="420.72" cy="201.20" r="1.3"/><circle cx="420.72" cy="202.90" r="1.3"/><circle cx="420.72" cy="204.60" r="1.3"/><circle cx="420.72" cy="206.30" r="1.3"/><circle cx="420.72" cy="208.00" r="1.3"/><circle cx="420.72" cy="209.70" r="1.3"/><circle cx="420.72" cy="211.40" r="1.3"/><circle cx="420.72" cy="213.10" r="1.3"/><circle cx="420.72" cy="214.80" r="1.3"/><circle cx="420.72" cy="216.50" r="1.3"/><circle cx="420.72" cy="218.20" r="1.3"/><circle cx="420.72" cy="219.90" r="1.3"/><circle cx="420.72" cy="221.60" r="1.3"/><circle cx="420.72" cy="223.30" r="1.3"/><circle cx="420.72" cy="225.00" r="1.3"/><circle cx="420.72" cy="226.70" r="1.3"/><circle cx="420.72" cy="228.40" r="1.3"/><circle cx="420.72" cy="230.10" r="1.3"/><circle cx="420.72" cy="231.80" r="1.3"/><circle cx="420.72" cy="233.50" r="1.3"/><circle cx="420.72" cy="235.20" r="1.3"/><circle cx="431.46" cy="135.70" r="1.3"/><circle cx="431.46" cy="137.60" r="1.3"/><circle cx="431.46" cy="139.50" r="1.3"/><circle cx="431.46" cy="141.40" r="1.3"/><circle cx="431.46" cy="143.30" r="1.3"/><circle cx="431.46" cy="145.20" r="1.3"/><circle cx="431.46" cy="147.10" r="1.3"/><circle cx="431.46" cy="149.00" r="1.3"/><circle cx="431.46" cy="150.90" r="1.3"/><circle cx="431.46" cy="152.80" r="1.3"/><circle cx="431.46" cy="154.70" r="1.3"/><circle cx="431.46" cy="156.60" r="1.3"/><circle cx="431.46" cy="158.50" r="1.3"/><circle cx="431.46" cy="160.40" r="1.3"/><circle cx="431.46" cy="162.30" r="1.3"/><circle cx="431.46" cy="168.90" r="1.3"/><circle cx="431.46" cy="170.60" r="1.3"/><circle cx="431.46" cy="172.30" r="1.3"/><circle cx="431.46" cy="174.00" r="1.3"/><circle cx="431.46" cy="175.70" r="1.3"/><circle cx="431.46" cy="177.40" r="1.3"/><circle cx="431.46" cy="179.10" r="1.3"/><circle cx="431.46" cy="180.80" r="1.3"/><circle cx="431.46" cy="182.50" r="1.3"/><circle cx="431.46" cy="184.20" r="1.3"/><circle cx="431.46" cy="185.90" r="1.3"/><circle cx="431.46" cy="187.60" r="1.3"/><circle cx="431.46" cy="189.30" r="1.3"/><circle cx="431.46" cy="191.00" r="1.3"/><circle cx="431.46" cy="192.70" r="1.3"/><circle cx="431.46" cy="194.40" r="1.3"/><circle cx="431.46" cy="196.10" r="1.3"/><circle cx="431.46" cy="197.80" r="1.3"/><circle cx="431.46" cy="199.50" r="1.3"/><circle cx="431.46" cy="201.20" r="1.3"/><circle cx="431.46" cy="202.90" r="1.3"/><circle cx="431.46" cy="204.60" r="1.3"/><circle cx="431.46" cy="206.30" r="1.3"/><circle cx="431.46" cy="208.00" r="1.3"/><circle cx="431.46" cy="209.70" r="1.3"/><circle cx="431.46" cy="211.40" r="1.3"/><circle cx="431.46" cy="213.10" r="1.3"/><circle cx="431.46" cy="214.80" r="1.3"/><circle cx="431.46" cy="216.50" r="1.3"/><circle cx="431.46" cy="218.20" r="1.3"/><circle cx="431.46" cy="219.90" r="1.3"/><circle cx="431.46" cy="221.60" r="1.3"/><circle cx="431.46" cy="223.30" r="1.3"/><circle cx="431.46" cy="225.00" r="1.3"/><circle cx="431.46" cy="226.70" r="1.3"/><circle cx="431.46" cy="228.40" r="1.3"/><circle cx="431.46" cy="230.10" r="1.3"/><circle cx="431.46" cy="231.80" r="1.3"/><circle cx="431.46" cy="233.50" r="1.3"/><circle cx="431.46" cy="235.20" r="1.3"/><circle cx="431.46" cy="236.90" r="1.3"/><circle cx="442.20" cy="118.30" r="1.3"/><circle cx="442.20" cy="120.20" r="1.3"/><circle cx="442.20" cy="122.10" r="1.3"/><circle cx="442.20" cy="124.00" r="1.3"/><circle cx="442.20" cy="125.90" r="1.3"/><circle cx="442.20" cy="131.30" r="1.3"/><circle cx="442.20" cy="133.00" r="1.3"/><circle cx="442.20" cy="134.70" r="1.3"/><circle cx="442.20" cy="136.40" r="1.3"/><circle cx="442.20" cy="138.10" r="1.3"/><circle cx="442.20" cy="139.80" r="1.3"/><circle cx="442.20" cy="141.50" r="1.3"/><circle cx="442.20" cy="143.20" r="1.3"/><circle cx="442.20" cy="144.90" r="1.3"/><circle cx="442.20" cy="146.60" r="1.3"/><circle cx="442.20" cy="148.30" r="1.3"/><circle cx="442.20" cy="150.00" r="1.3"/><circle cx="442.20" cy="151.70" r="1.3"/><circle cx="442.20" cy="153.40" r="1.3"/><circle cx="442.20" cy="155.10" r="1.3"/><circle cx="442.20" cy="156.80" r="1.3"/><circle cx="442.20" cy="158.50" r="1.3"/><circle cx="442.20" cy="160.20" r="1.3"/><circle cx="442.20" cy="161.90" r="1.3"/><circle cx="442.20" cy="163.60" r="1.3"/><circle cx="442.20" cy="165.30" r="1.3"/><circle cx="442.20" cy="167.00" r="1.3"/><circle cx="442.20" cy="168.70" r="1.3"/><circle cx="442.20" cy="170.40" r="1.3"/><circle cx="442.20" cy="172.10" r="1.3"/><circle cx="442.20" cy="173.80" r="1.3"/><circle cx="442.20" cy="175.50" r="1.3"/><circle cx="442.20" cy="177.20" r="1.3"/><circle cx="442.20" cy="178.90" r="1.3"/><circle cx="442.20" cy="180.60" r="1.3"/><circle cx="442.20" cy="182.30" r="1.3"/><circle cx="442.20" cy="184.00" r="1.3"/><circle cx="442.20" cy="185.70" r="1.3"/><circle cx="442.20" cy="187.40" r="1.3"/><circle cx="442.20" cy="189.10" r="1.3"/><circle cx="442.20" cy="190.80" r="1.3"/><circle cx="442.20" cy="192.50" r="1.3"/><circle cx="442.20" cy="194.20" r="1.3"/><circle cx="442.20" cy="195.90" r="1.3"/><circle cx="442.20" cy="197.60" r="1.3"/><circle cx="442.20" cy="199.30" r="1.3"/><circle cx="442.20" cy="201.00" r="1.3"/><circle cx="442.20" cy="202.70" r="1.3"/><circle cx="442.20" cy="204.40" r="1.3"/><circle cx="442.20" cy="206.10" r="1.3"/><circle cx="442.20" cy="207.80" r="1.3"/><circle cx="452.94" cy="153.30" r="1.3"/><circle cx="452.94" cy="155.70" r="1.3"/><circle cx="452.94" cy="158.10" r="1.3"/><circle cx="452.94" cy="160.50" r="1.3"/><circle cx="452.94" cy="162.90" r="1.3"/><circle cx="452.94" cy="165.30" r="1.3"/><circle cx="452.94" cy="167.70" r="1.3"/><circle cx="452.94" cy="170.10" r="1.3"/><circle cx="452.94" cy="172.50" r="1.3"/><circle cx="452.94" cy="174.90" r="1.3"/><circle cx="452.94" cy="177.30" r="1.3"/><circle cx="452.94" cy="179.70" r="1.3"/><circle cx="452.94" cy="182.10" r="1.3"/><circle cx="452.94" cy="184.50" r="1.3"/><circle cx="452.94" cy="186.90" r="1.3"/><circle cx="452.94" cy="189.30" r="1.3"/><circle cx="452.94" cy="191.70" r="1.3"/><circle cx="452.94" cy="194.10" r="1.3"/><circle cx="452.94" cy="196.50" r="1.3"/><circle cx="452.94" cy="198.90" r="1.3"/><circle cx="452.94" cy="201.30" r="1.3"/><circle cx="452.94" cy="203.70" r="1.3"/><circle cx="452.94" cy="206.10" r="1.3"/><circle cx="452.94" cy="208.50" r="1.3"/><circle cx="452.94" cy="210.90" r="1.3"/><circle cx="452.94" cy="213.30" r="1.3"/><circle cx="452.94" cy="215.70" r="1.3"/><circle cx="452.94" cy="218.10" r="1.3"/><circle cx="452.94" cy="220.50" r="1.3"/></g>
<line x1="272.21" y1="293.00" x2="282.35" y2="293.00" stroke="#1a1a1a" stroke-width="1.4"/>
<line x1="282.95" y1="293.00" x2="293.09" y2="293.00" stroke="#1a1a1a" stroke-width="1.4"/>
<rect x="293.89" y="291.90" width="9.74" height="2.2" rx="0.8" fill="#b73779" stroke="#7a6a70" stroke-width="0.5"/>
<line x1="294.29" y1="293.00" x2="303.23" y2="293.00" stroke="#3a2a30" stroke-width="0.8"/>
<rect x="304.63" y="291.90" width="9.74" height="2.2" rx="0.8" fill="#f7705c" stroke="#7a6a70" stroke-width="0.5"/>
<line x1="305.03" y1="293.00" x2="313.97" y2="293.00" stroke="#3a2a30" stroke-width="0.8"/>
<line x1="315.17" y1="293.00" x2="325.31" y2="293.00" stroke="#1a1a1a" stroke-width="1.4"/>
<text x="61.10" y="64.80" class="lt">c</text>
<text x="72.40" y="64.80" class="lt">b</text>
<text x="83.00" y="64.80" class="lt">a</text>
<text x="94.00" y="64.80" class="lt">a</text>
<text x="105.10" y="64.80" class="lt">c</text>
<text x="133.20" y="19.80" class="lt">a</text>
<text x="144.80" y="19.80" class="lt">b</text>
<text x="155.30" y="19.80" class="lt">c</text>
<text x="166.10" y="19.80" class="lt">c</text>
<text x="177.20" y="19.80" class="lt">c</text>
<text x="207.50" y="39.80" class="lt">a</text>
<text x="218.60" y="39.80" class="lt">b</text>
<text x="228.60" y="39.80" class="lt">c</text>
<text x="239.10" y="39.80" class="lt">c</text>
<text x="249.70" y="39.80" class="lt">c</text>
<text x="276.90" y="116.90" class="lt">c</text>
<text x="287.70" y="116.90" class="lt">b</text>
<text x="298.00" y="116.90" class="lt">a</text>
<text x="308.80" y="116.90" class="lt">a</text>
<text x="321.70" y="116.90" class="lt">bc</text>
<text x="347.60" y="81.50" class="lt">a</text>
<text x="358.50" y="81.50" class="lt">c</text>
<text x="370.10" y="81.50" class="lt">d</text>
<text x="380.90" y="81.50" class="lt">e</text>
<text x="391.70" y="81.50" class="lt">b</text>
<text x="419.60" y="68.80" class="lt">c</text>
<text x="430.50" y="68.80" class="lt">c</text>
<text x="442.10" y="68.80" class="lt">b</text>
<text x="452.90" y="68.80" class="lt">c</text>
<text x="463.70" y="68.80" class="lt">a</text>
<text x="268" y="335.8" class="at">Canopy strata</text>
<text transform="translate(16.8,166.3) rotate(-90)" x="0" y="0" class="at">LiDAR-derived Canopy Cover (%)</text>
<text x="494" y="130.9" class="lg">Burn class</text>
<line x1="499.1" y1="140.30" x2="499.1" y2="147.90" stroke="#7a7a7a" stroke-width="0.8"/>
<rect x="495.6" y="141.80" width="7.1" height="4.6" fill="#140e36" stroke="#7a7a7a" stroke-width="0.6"/>
<line x1="495.6" y1="144.10" x2="502.7" y2="144.10" stroke="#3c3c3c" stroke-width="0.9"/>
<text x="508.7" y="147.30" class="ll">0</text>
<line x1="499.1" y1="150.08" x2="499.1" y2="157.68" stroke="#7a7a7a" stroke-width="0.8"/>
<rect x="495.6" y="151.58" width="7.1" height="4.6" fill="#641a80" stroke="#7a7a7a" stroke-width="0.6"/>
<line x1="495.6" y1="153.88" x2="502.7" y2="153.88" stroke="#3c3c3c" stroke-width="0.9"/>
<text x="508.7" y="157.08" class="ll">1</text>
<line x1="499.1" y1="159.86" x2="499.1" y2="167.46" stroke="#7a7a7a" stroke-width="0.8"/>
<rect x="495.6" y="161.36" width="7.1" height="4.6" fill="#b73779" stroke="#7a7a7a" stroke-width="0.6"/>
<line x1="495.6" y1="163.66" x2="502.7" y2="163.66" stroke="#3c3c3c" stroke-width="0.9"/>
<text x="508.7" y="166.86" class="ll">2</text>
<line x1="499.1" y1="169.64" x2="499.1" y2="177.24" stroke="#7a7a7a" stroke-width="0.8"/>
<rect x="495.6" y="171.14" width="7.1" height="4.6" fill="#f7705c" stroke="#7a7a7a" stroke-width="0.6"/>
<line x1="495.6" y1="173.44" x2="502.7" y2="173.44" stroke="#3c3c3c" stroke-width="0.9"/>
<text x="508.7" y="176.64" class="ll">3</text>
<line x1="499.1" y1="179.42" x2="499.1" y2="187.02" stroke="#7a7a7a" stroke-width="0.8"/>
<rect x="495.6" y="180.92" width="7.1" height="4.6" fill="#fecf92" stroke="#7a7a7a" stroke-width="0.6"/>
<line x1="495.6" y1="183.22" x2="502.7" y2="183.22" stroke="#3c3c3c" stroke-width="0.9"/>
<text x="508.7" y="186.42" class="ll">&gt;3</text>
</svg>
</body></html>
